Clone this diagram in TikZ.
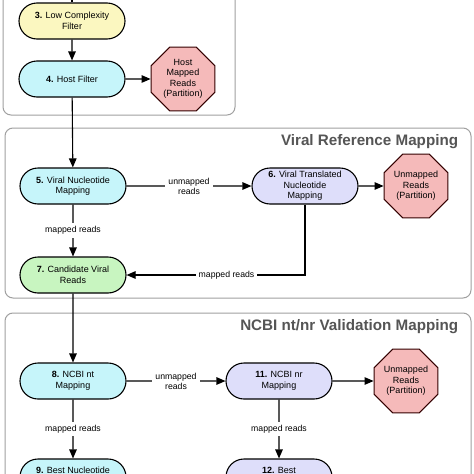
\documentclass[tikz,border=0pt]{standalone}
\usepackage{fontspec}
\setmainfont{Liberation Sans}
\usetikzlibrary{arrows.meta,shapes.geometric,shapes.misc}

\definecolor{yellowfill}{RGB}{251,247,192}
\definecolor{cyanfill}{RGB}{198,245,250}
\definecolor{lavfill}{RGB}{222,222,250}
\definecolor{greenfill}{RGB}{200,245,192}
\definecolor{pinkfill}{RGB}{245,186,186}
\definecolor{panelgray}{RGB}{160,160,160}
\definecolor{titlegray}{RGB}{85,85,85}

\begin{document}
\begin{tikzpicture}[x=1pt, y=-1pt, >={Triangle[length=9pt,width=7.5pt]},
  font=\fontsize{9}{10.5}\selectfont, line width=1.1pt,
  proc/.style={rounded rectangle, draw, line width=1.1pt, minimum width=110pt,
    minimum height=36pt, align=center, inner sep=2pt},
  halt/.style={regular polygon, regular polygon sides=8, draw=black!80!red,
    line width=1.1pt, fill=pinkfill, minimum size=69pt, inner sep=0pt, align=center},
  panel/.style={draw=panelgray, line width=1pt, rounded corners=8pt, fill=white},
  lbl/.style={fill=white, inner sep=3pt, align=center, font=\fontsize{8.7}{10}\selectfont},
  title/.style={font=\fontsize{15.2}{18}\selectfont\bfseries, text=titlegray, anchor=east}]
  \useasboundingbox (0,0) rectangle (474,474);

  % panels
  \draw[panel] (3,-20) rectangle (235,115);
  \draw[panel] (5,128) rectangle (471,298);
  \node[title] (t2) at (462,142) {Viral Reference Mapping};
  \draw[panel] (5,313) rectangle (471,510);
  \node[title] (t3) at (462,327) {NCBI nt/nr Validation Mapping};

  % host filtering
  \coordinate (in) at (72,-10);
  \node[proc, fill=yellowfill] (n3) at (72,21) {\textbf{3.} Low Complexity\\Filter};
  \node[proc, fill=cyanfill] (n4) at (72,79) {\textbf{4.} Host Filter};
  \node[halt] (h4) at (183,79) {Host\\Mapped\\Reads\\(Partition)};

  % viral reference mapping
  \node[proc, fill=cyanfill] (n5) at (73,186) {\textbf{5.} Viral Nucleotide\\Mapping};
  \node[proc, fill=lavfill] (n6) at (305,186) {\textbf{6.} Viral Translated\\Nucleotide\\Mapping};
  \node[halt] (h6) at (416,186) {Unmapped\\Reads\\(Partition)};
  \node[proc, fill=greenfill] (n7) at (73,275) {\textbf{7.} Candidate Viral\\Reads};

  % validation mapping
  \node[proc, fill=cyanfill] (n8) at (73,381) {\textbf{8.} NCBI nt\\Mapping};
  \node[proc, fill=lavfill] (n11) at (279,381) {\textbf{11.} NCBI nr\\Mapping};
  \node[halt] (h11) at (406,381) {Unmapped\\Reads\\(Partition)};
  \node[proc, fill=cyanfill] (n9) at (73,477) {\textbf{9.} Best Nucleotide\\\strut};
  \node[proc, fill=lavfill] (n12) at (279,477) {\textbf{12.} Best\\\strut};

  \draw (in) -- (n3);
  \draw[->] (n3) -- (n4);
  \draw[->] (n4) -- (h4);
  \draw[->] (n4) -- (n5);
  \draw[->] (n5) -- node[lbl] {unmapped\\reads} (n6);
  \draw[->] (n6) -- (h6);
  \draw[->] (n5) -- node[lbl] {mapped reads} (n7);
  \draw[->] (n6.south) |- node[lbl, pos=0.72] {mapped reads} (n7.east);
  \draw[->] (n7) -- (n8);
  \draw[->] (n8) -- node[lbl] {unmapped\\reads} (n11);
  \draw[->] (n11) -- (h11);
  \draw[->] (n8) -- node[lbl] {mapped reads} (n9);
  \draw[->] (n11) -- node[lbl] {mapped reads} (n12);
\end{tikzpicture}
\end{document}
